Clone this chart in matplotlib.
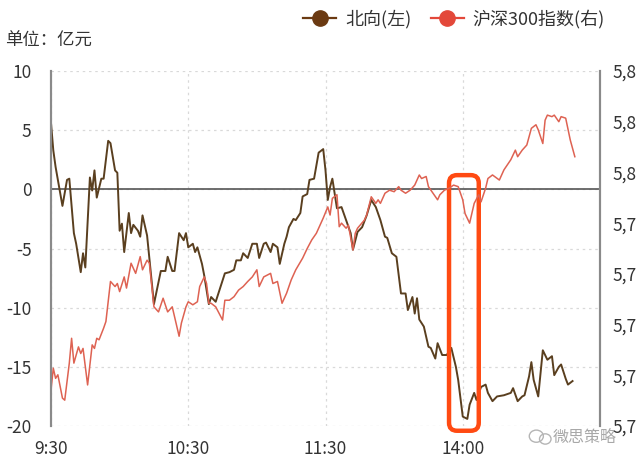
import matplotlib
matplotlib.use("Agg")
import matplotlib.pyplot as plt
from matplotlib.lines import Line2D
from matplotlib.patches import FancyBboxPatch, Ellipse

plt.rcParams["font.family"] = ["Noto Sans CJK SC", "DejaVu Sans"]
plt.rcParams["axes.unicode_minus"] = False

# trading minutes since 9:30 (lunch break removed: 13:00 = 120)
TICK_MIN = [0, 60, 120, 180]
TICK_LABELS = ["9:30", "10:30", "11:30", "14:00"]

# 北向资金 (亿元), left axis
nb_min = [0, 1, 2, 5, 7, 8, 10, 11, 13, 14, 15, 17, 18, 19, 20, 22, 23, 25, 26, 28,
          29, 30, 31, 32, 34, 35, 36, 38, 39, 40, 42, 45, 48, 50, 51, 53, 54, 56, 58, 59,
          60, 62, 63, 64, 66, 67, 69, 70, 72, 75, 76, 78, 80, 81, 83, 84, 86, 88, 90, 91,
          93, 94, 96, 97, 99, 100, 102, 103, 104, 106, 107, 109, 110, 112, 113, 115, 117, 119, 120, 121,
          122, 123, 125, 127, 129, 131, 132, 134, 136, 138, 140, 142, 144, 146, 147, 149, 151, 153, 155, 156,
          158, 159, 160, 161, 163, 165, 166, 168, 169, 171, 173, 175, 177, 178, 180, 182, 183, 185, 186, 188,
          190, 191, 193, 195, 198, 201, 202, 204, 206, 207, 209, 210, 211, 213, 215, 217, 219, 220, 222, 223,
          225, 226, 228]
nb_val = [5.6, 3.3, 1.9, -1.4, 0.8, 0.9, -3.7, -4.6, -7.0, -5.4, -6.6, 1.0, -0.1, 1.6, -0.7, 0.9, 0.9, 4.1, 3.9, 1.6,
          1.4, -3.5, -2.9, -5.3, -2.0, -3.7, -3.0, -3.5, -4.0, -2.2, -3.9, -9.7, -6.9, -6.9, -5.7, -6.9, -6.9, -3.7, -4.3, -3.7,
          -4.9, -4.6, -5.3, -4.9, -6.3, -7.3, -9.7, -9.1, -9.5, -7.7, -7.1, -7.0, -6.8, -6.0, -6.0, -5.4, -5.8, -4.6, -4.6, -5.8,
          -4.6, -4.5, -5.3, -4.6, -4.9, -6.3, -4.6, -4.0, -3.2, -2.5, -2.6, -2.0, -0.6, -0.4, 0.8, 0.9, 3.1, 3.4, 1.6, -0.9,
          0.2, 0.9, -1.6, -1.5, -2.6, -3.7, -5.1, -3.6, -3.2, -2.2, -0.9, -1.5, -2.6, -4.0, -4.1, -5.4, -5.7, -8.8, -8.8, -10.2,
          -9.1, -10.5, -9.2, -11.0, -11.6, -13.3, -13.4, -14.3, -13.0, -14.0, -14.0, -13.4, -15.0, -16.1, -19.2, -19.4, -18.2, -17.2, -17.8, -16.7,
          -16.5, -17.2, -17.9, -17.5, -17.4, -17.2, -16.8, -17.9, -17.5, -17.4, -15.8, -14.6, -16.1, -17.5, -13.6, -14.4, -14.1, -15.7, -15.0, -14.8,
          -16.0, -16.5, -16.2]

# 沪深300指数, right axis
hs_min = [0, 1, 2, 3, 5, 6, 8, 9, 10, 12, 13, 14, 16, 18, 19, 20, 21, 23, 24, 26,
          28, 29, 30, 32, 33, 35, 37, 39, 40, 42, 43, 45, 47, 49, 51, 53, 56, 57, 59, 60,
          62, 64, 65, 67, 68, 69, 70, 72, 75, 76, 78, 80, 82, 84, 86, 88, 90, 91, 93, 96,
          97, 99, 101, 103, 105, 107, 110, 112, 114, 116, 118, 119, 121, 122, 123, 125, 126, 127, 129, 130,
          132, 133, 134, 137, 138, 140, 142, 143, 144, 146, 148, 150, 152, 153, 155, 157, 159, 161, 162, 164,
          165, 167, 169, 170, 172, 174, 176, 178, 180, 181, 183, 185, 187, 188, 190, 191, 193, 196, 198, 201,
          203, 204, 206, 208, 210, 212, 213, 215, 216, 217, 219, 220, 222, 223, 225, 227, 229]
hs_val = [5757.1, 5761.4, 5759.4, 5760.1, 5755.5, 5755.1, 5762.4, 5767.3, 5762.4, 5765.6,
          5764.3, 5765.3, 5758.1, 5766.0, 5765.3, 5767.3, 5767.0, 5769.3, 5770.6, 5778.5,
          5777.5, 5778.1, 5776.5, 5779.4, 5777.2, 5782.1, 5780.1, 5783.4, 5780.8, 5782.7,
          5782.1, 5773.5, 5772.5, 5775.2, 5772.5, 5773.5, 5767.7, 5770.3, 5773.5, 5774.5,
          5773.9, 5774.5, 5777.5, 5779.4, 5778.1, 5774.2, 5774.2, 5773.5, 5770.9, 5774.8,
          5774.8, 5775.5, 5776.8, 5777.5, 5778.5, 5779.4, 5780.8, 5777.5, 5779.4, 5780.1,
          5778.1, 5778.5, 5774.2, 5776.2, 5778.8, 5780.8, 5783.1, 5785.0, 5786.7, 5788.0,
          5790.0, 5791.0, 5793.2, 5791.6, 5794.9, 5795.6, 5789.3, 5790.0, 5789.0, 5789.6,
          5784.7, 5788.0, 5789.0, 5790.6, 5791.6, 5795.2, 5793.9, 5794.6, 5793.9, 5795.9,
          5796.5, 5796.2, 5797.2, 5796.5, 5795.9, 5796.5, 5797.5, 5799.5, 5798.8, 5799.2,
          5797.2, 5795.9, 5794.6, 5795.6, 5796.5, 5796.9, 5797.5, 5797.2, 5794.6, 5791.9,
          5790.0, 5793.9, 5795.6, 5794.2, 5796.9, 5798.8, 5799.5, 5798.5, 5800.5, 5802.5,
          5804.4, 5803.1, 5804.4, 5805.4, 5808.7, 5809.4, 5808.4, 5805.7, 5810.3, 5811.3,
          5811.0, 5811.3, 5810.0, 5811.0, 5810.7, 5806.4, 5803.1]

LEFT_TICKS = [10, 5, 0, -5, -10, -15, -20]
RIGHT_TICKS = [5820, 5810, 5800, 5790, 5780, 5770, 5760, 5750]
# the source image is cropped on the right, only "5,8" / "5,7" is visible
RIGHT_LABELS = ["5,8", "5,8", "5,8", "5,7", "5,7", "5,7", "5,7", "5,7"]

# highlighted window around 14:00
HL_MIN = (174, 187)
HL_VAL = (-20.4, 1.2)

BROWN = "#5a3f1f"
RED = "#de6252"

fig = plt.figure(figsize=(6.4, 4.68), dpi=100)
ax = fig.add_axes([0.0797, 0.0897, 0.8578, 0.7586])
ax2 = ax.twinx()

ax.plot(nb_min, nb_val, color=BROWN, linewidth=1.4, zorder=3)
ax2.plot(hs_min, hs_val, color=RED, linewidth=1.1, zorder=2)

ax.set_xlim(0, 240)
ax.set_ylim(-20, 10)
ax2.set_ylim(5750, 5820)
ax.set_xticks(TICK_MIN)
ax.set_xticklabels(TICK_LABELS)
ax.set_yticks(LEFT_TICKS)
ax2.set_yticks(RIGHT_TICKS)
ax2.set_yticklabels(RIGHT_LABELS)

ax.axhline(0, color="#555555", linewidth=1.2, zorder=2)
ax.grid(True, color="#d9d9d9", linestyle=(0, (2, 3)), linewidth=0.9)
ax.set_axisbelow(True)

for a in (ax, ax2):
    a.spines["top"].set_visible(False)
    a.spines["bottom"].set_visible(False)
    a.spines["left"].set_color("#8a8a8a")
    a.spines["right"].set_color("#8a8a8a")
    a.spines["left"].set_linewidth(1.5)
    a.spines["right"].set_linewidth(1.5)
ax.tick_params(axis="both", length=0, labelsize=12.5, colors="#333333")
ax.tick_params(axis="y", pad=14)
ax.tick_params(axis="x", pad=10)
ax2.tick_params(axis="y", length=0, labelsize=12.5, colors="#333333", pad=9)

box = FancyBboxPatch((HL_MIN[0], HL_VAL[0]), HL_MIN[1] - HL_MIN[0], HL_VAL[1] - HL_VAL[0],
                     boxstyle="round,pad=0,rounding_size=3.5", mutation_aspect=0.193,
                     fill=False, edgecolor="#ff4a12", linewidth=3.2, clip_on=False, zorder=5)
ax.add_patch(box)

fig.text(0.008, 0.914, "单位：亿元", fontsize=12.5, color="#333333", va="center", ha="left")

handles = [
    Line2D([], [], color="#6b3a12", marker="o", markersize=11, linewidth=1.6),
    Line2D([], [], color="#e3483a", marker="o", markersize=11, linewidth=1.6),
]
fig.legend(handles, ["北向(左)", "沪深300指数(右)"], loc="center right",
           bbox_to_anchor=(0.945, 0.96), ncol=2, frameon=False, fontsize=13,
           handlelength=1.8, columnspacing=1.1, handletextpad=0.5,
           labelcolor="#333333", borderaxespad=0, borderpad=0)

# watermark
fig.add_artist(Ellipse((0.838, 0.068), 0.022, 0.026, transform=fig.transFigure,
                       fill=False, edgecolor="#b5b5b5", linewidth=1))
fig.add_artist(Ellipse((0.852, 0.062), 0.018, 0.022, transform=fig.transFigure,
                       fill=False, edgecolor="#b5b5b5", linewidth=1))
fig.text(0.863, 0.066, "微思策略", fontsize=11.5, color="#a8a8a8", va="center", ha="left")

fig.savefig("out.png", dpi=100)
